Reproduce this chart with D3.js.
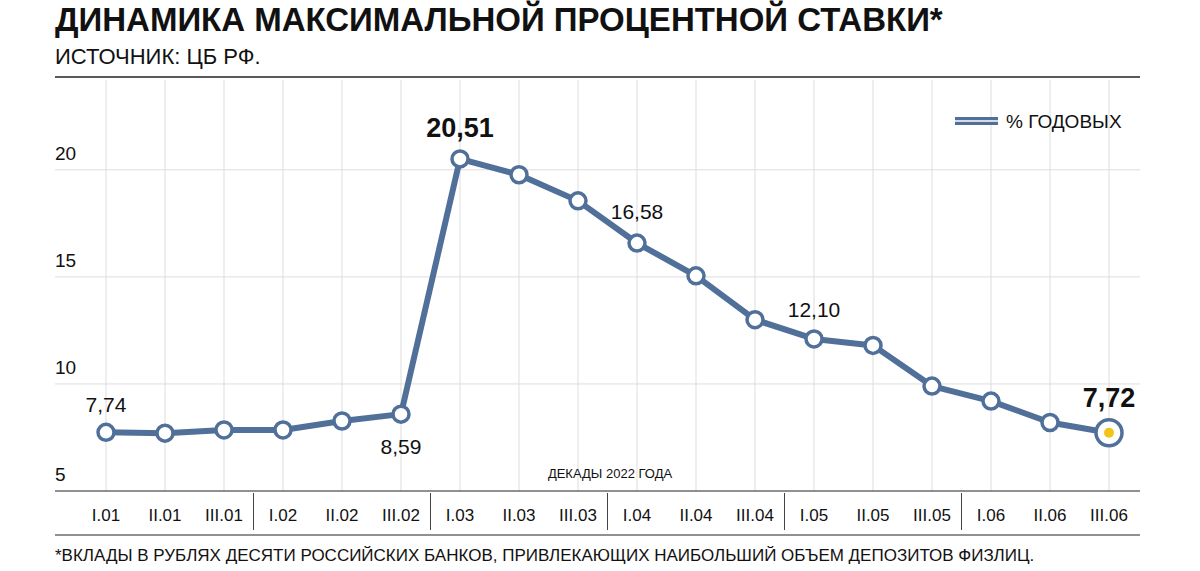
<!DOCTYPE html>
<html><head><meta charset="utf-8">
<script src="https://cdn.jsdelivr.net/npm/d3@7"></script>
<style>
body{margin:0;background:#fff;font-family:"Liberation Sans",Arial,sans-serif}
svg text{fill:#111}
</style></head>
<body><svg id="chart" width="1200" height="571"></svg>
<script>
const categories = ["I.01","II.01","III.01","I.02","II.02","III.02","I.03","II.03","III.03","I.04","II.04","III.04","I.05","II.05","III.05","I.06","II.06","III.06"]
const rates = [7.74,7.7,7.85,7.85,8.27,8.59,20.51,19.77,18.55,16.58,15.05,13.0,12.10,11.8,9.9,9.2,8.2,7.72]
const yTicks = [5,10,15,20]
// labelled points: index -> [text, big]
const callouts = [[0,"7,74",false],[5,"8,59",false],[6,"20,51",true],[9,"16,58",false],[12,"12,10",false],[17,"7,72",true]]

const svg = d3.select("#chart")
const blue = "#50709a"

svg.append("text").attr("x",55).attr("y",31).attr("font-size",33).attr("font-weight",700)
    .text("ДИНАМИКА МАКСИМАЛЬНОЙ ПРОЦЕНТНОЙ СТАВКИ*")
svg.append("text").attr("x",55).attr("y",64).attr("font-size",22).attr("fill","#333")
    .text("ИСТОЧНИК: ЦБ РФ.")
svg.append("line").attr("x1",55).attr("x2",1140).attr("y1",77).attr("y2",77).attr("stroke","#222").attr("stroke-width",1.5)

const x = d3.scalePoint().domain(categories).range([106,1109])
const y = d3.scaleLinear().domain([5,22]).range([491,127])

// grids
svg.append("g").selectAll("line").data(categories).join("line")
    .attr("x1",d=>x(d)).attr("x2",d=>x(d)).attr("y1",80).attr("y2",491)
    .attr("stroke","#ddd")
svg.append("g").selectAll("line").data(yTicks.slice(1)).join("line")
    .attr("x1",55).attr("x2",1140).attr("y1",d=>y(d)).attr("y2",d=>y(d)).attr("stroke","#ddd")
svg.append("g").selectAll("text").data(yTicks).join("text")
    .attr("x",55).attr("y",d=>y(d)-10).attr("font-size",19).attr("fill","#333").text(d=>d)
svg.append("line").attr("x1",55).attr("x2",1140).attr("y1",491).attr("y2",491).attr("stroke","#222")
svg.append("line").attr("x1",55).attr("x2",1140).attr("y1",535).attr("y2",535).attr("stroke","#222")

// x labels and month separators
svg.append("g").selectAll("text").data(categories).join("text")
    .attr("x",d=>x(d)).attr("y",521).attr("text-anchor","middle").attr("font-size",17).attr("fill","#333").text(d=>d)
const step = x.step()
svg.append("g").selectAll("line").data(d3.range(3,18,3)).join("line")
    .attr("x1",i=>x(categories[i])-step/2).attr("x2",i=>x(categories[i])-step/2)
    .attr("y1",493).attr("y2",530).attr("stroke","#444")
svg.append("text").attr("x",610).attr("y",478).attr("text-anchor","middle").attr("font-size",13).text("ДЕКАДЫ 2022 ГОДА")

// line + points
svg.append("path").datum(rates)
    .attr("d",d3.line().x((d,i)=>x(categories[i])).y(d=>y(d)))
    .attr("fill","none").attr("stroke",blue).attr("stroke-width",6).attr("stroke-linejoin","round")
svg.append("g").selectAll("circle").data(rates).join("circle")
    .attr("cx",(d,i)=>x(categories[i])).attr("cy",d=>y(d))
    .attr("r",(d,i)=>i===17?13:8).attr("fill","#fff").attr("stroke",blue).attr("stroke-width",3.5)
svg.append("circle").attr("cx",x(categories[17])).attr("cy",y(rates[17])).attr("r",5).attr("fill","#f2c318")

const offs = {0:[0,-20],5:[0,40],6:[0,-22],9:[0,-24],12:[0,-22],17:[0,-26]}
svg.append("g").selectAll("text").data(callouts).join("text")
    .attr("x",d=>x(categories[d[0]])+offs[d[0]][0]).attr("y",d=>y(rates[d[0]])+offs[d[0]][1])
    .attr("text-anchor","middle").attr("font-size",d=>d[2]?27:21).attr("font-weight",d=>d[2]?700:400)
    .text(d=>d[1])

// legend
svg.append("line").attr("x1",955).attr("x2",998).attr("y1",121).attr("y2",121).attr("stroke",blue).attr("stroke-width",8)
svg.append("line").attr("x1",955).attr("x2",998).attr("y1",121).attr("y2",121).attr("stroke","#fff").attr("stroke-width",1.5)
svg.append("text").attr("x",1006).attr("y",128).attr("font-size",19).attr("fill","#333").text("% ГОДОВЫХ")

svg.append("text").attr("x",55).attr("y",561).attr("font-size",17).attr("fill","#222")
    .text("*ВКЛАДЫ В РУБЛЯХ ДЕСЯТИ РОССИЙСКИХ БАНКОВ, ПРИВЛЕКАЮЩИХ НАИБОЛЬШИЙ ОБЪЕМ ДЕПОЗИТОВ ФИЗЛИЦ.")
</script></body></html>
